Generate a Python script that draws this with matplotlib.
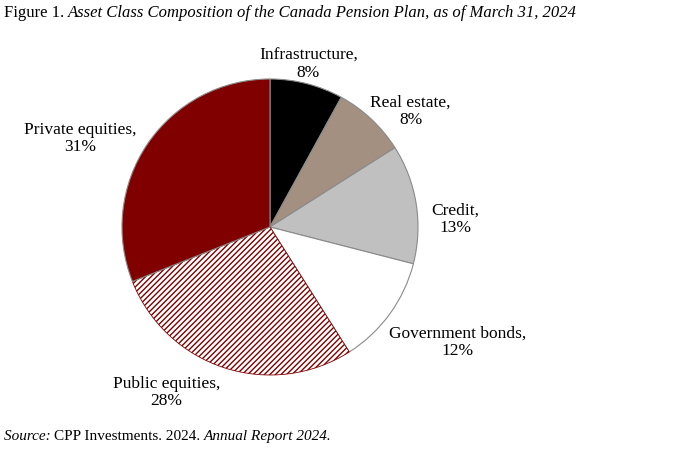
import matplotlib.pyplot as plt

plt.rcParams['font.family'] = ['Liberation Serif', 'DejaVu Serif']

# data
labels = ['Infrastructure,\n8%', 'Real estate,\n8%', 'Credit,\n13%',
          'Government bonds,\n12%', 'Public equities,\n28%', 'Private equities,\n31%']
shares = [8, 8, 13, 12, 28, 31]
colors = ['#000000', '#a39081', '#c0c0c0', '#ffffff', '#ffffff', '#800000']
hatches = [None, None, None, None, '//////', None]
# label positions in pie-radius units
label_pos = [(0.26, 1.10), (0.95, 0.78), (1.25, 0.05), (1.27, -0.78),
             (-0.70, -1.12), (-1.28, 0.60)]

parts_title = [('Figure 1. ', 'normal'),
               ('Asset Class Composition of the Canada Pension Plan, as of March 31, 2024', 'italic')]
parts_src = [('Source: ', 'italic'), ('CPP Investments. 2024. ', 'normal'),
             ('Annual Report 2024.', 'italic')]

fig = plt.figure(figsize=(7, 4.5), dpi=100)
ax = fig.add_axes([122 / 700, 75 / 450, 296 / 700, 296 / 450])

wedges, _ = ax.pie(shares, colors=colors, startangle=90, counterclock=False,
                   wedgeprops=dict(edgecolor='#8a8a8a', linewidth=0.8))
for w, h in zip(wedges, hatches):
    if h:
        w.set_hatch(h)
        w.set_edgecolor('#800000')
        w.set_linewidth(0.6)
ax.set_xlim(-1, 1)
ax.set_ylim(-1, 1)

for lab, (x, y) in zip(labels, label_pos):
    ax.text(x, y, lab, ha='center', va='center', fontsize=12.5,
            linespacing=1.1, clip_on=False)


def chain(x, y, parts, size):
    # write pieces one after another on one line
    t = fig.text(x, y, parts[0][0], fontsize=size, style=parts[0][1], va='baseline')
    for s, st in parts[1:]:
        t = ax.annotate(s, xy=(1, 0), xycoords=t, fontsize=size, style=st,
                        va='bottom', ha='left', annotation_clip=False)
    return t


chain(0.005, 0.962, parts_title, 12)
chain(0.005, 0.022, parts_src, 11)

fig.savefig('out.png', dpi=100)
